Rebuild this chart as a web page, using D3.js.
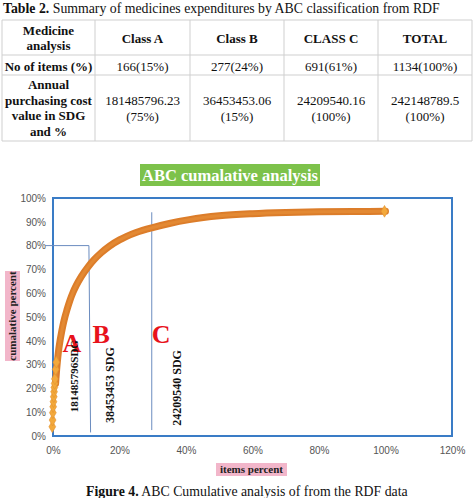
<!DOCTYPE html>
<html>
<head>
<meta charset="utf-8">
<script src="https://cdn.jsdelivr.net/npm/d3@7"></script>
<style>
html,body{margin:0;padding:0;background:#fff;}
svg{display:block;}
</style>
</head>
<body>
<svg id="chart" width="474" height="498"></svg>
<script>
// ---------- table data ----------
const tableTitleBold = "Table 2.";
const tableTitleRest = " Summary of medicines expenditures by ABC classification from RDF";
const headerRow = [["Medicine", "analysis"], ["Class A"], ["Class B"], ["CLASS C"], ["TOTAL"]];
const itemsRow = ["No of items (%)", "166(15%)", "277(24%)", "691(61%)", "1134(100%)"];
const costRowLabel = ["Annual", "purchasing cost", "value in SDG", "and %"];
const costValues = ["181485796.23", "36453453.06", "24209540.16", "242148789.5"];
const costShares = ["(75%)", "(15%)", "(100%)", "(100%)"];

// ---------- chart data ----------
const chartTitle = "ABC cumalative analysis";
const itemsPercent = [0.09, 0.18, 0.26, 0.35, 0.44, 0.53, 0.62, 0.71, 0.79, 0.88, 1.1, 1.3, 1.6, 2.0, 2.5, 3.0, 3.5, 4.2, 5.1, 6.0, 7.0, 8.5, 10.5, 12.5, 14.5, 17, 20, 22, 25, 30, 35, 41, 50, 60, 70, 80, 90, 100];
const cumulativePercent = [3.9, 6.7, 9.8, 12.3, 14.4, 16.5, 18.6, 20.4, 22.1, 24, 28, 31, 35, 39, 43, 46.5, 49.5, 53, 57, 60.3, 63.3, 67, 71, 74.3, 77, 79.8, 82.4, 83.8, 85.5, 87.6, 89.3, 90.9, 92.5, 93.4, 93.9, 94.2, 94.3, 94.4];
const yTicks = [0, 10, 20, 30, 40, 50, 60, 70, 80, 90, 100];
const xTicks = [0, 20, 40, 60, 80, 100, 120];
const classLetters = ["A", "B", "C"];
const classLetterX = [5.7, 14.5, 32.5];
const classValueLabels = ["181485796SDG", "38453453 SDG", "24209540 SDG"];
const classValueX = [6.3, 17.2, 37.3];
const classValueBottom = [10, 5.5, 4.3];
const boundaryX = [10.8, 29.7];
const boundaryTop = [80, 94];
const boundaryBottom = [1.5, 2.5];
const xTitle = "items percent";
const yTitle = "cumalative percent";
const captionBold = "Figure 4.";
const captionRest = " ABC Cumulative analysis of from the RDF data";

const svg = d3.select("#chart");
const serif = "'Liberation Serif','Times New Roman',serif";
const sans = "'Liberation Sans',Arial,sans-serif";

// ---------- table ----------
const tt = svg.append("text").attr("x", 3).attr("y", 12.5)
  .attr("font-family", serif).attr("font-size", 13.8).attr("fill", "#111");
tt.append("tspan").attr("font-weight", "bold").text(tableTitleBold);
tt.append("tspan").text(tableTitleRest);

const colEdges = [2, 95, 190, 284, 378, 472];
const rowEdges = [20, 55, 75, 141];
const gridColor = "#cfcfcf";
rowEdges.forEach(y => svg.append("line").attr("x1", colEdges[0]).attr("x2", colEdges[5])
  .attr("y1", y).attr("y2", y).attr("stroke", gridColor).attr("stroke-width", 1));
colEdges.forEach(x => svg.append("line").attr("x1", x).attr("x2", x)
  .attr("y1", rowEdges[0]).attr("y2", rowEdges[3]).attr("stroke", gridColor).attr("stroke-width", 1));

const colCenter = i => (colEdges[i] + colEdges[i + 1]) / 2;
function cellText(i, lines, yCenter, bold) {
  const lh = 15.5;
  const y0 = yCenter - (lines.length - 1) * lh / 2;
  lines.forEach((l, k) => {
    svg.append("text").attr("x", colCenter(i)).attr("y", y0 + k * lh + 4.5)
      .attr("text-anchor", "middle").attr("font-family", serif)
      .attr("font-size", 13).attr("font-weight", bold ? "bold" : "normal")
      .attr("fill", "#111").text(l);
  });
}
headerRow.forEach((lines, i) => cellText(i, lines, 38, true));
itemsRow.forEach((t, i) => cellText(i, [t], 66, i === 0));
cellText(0, costRowLabel, 108, true);
costValues.forEach((v, i) => cellText(i + 1, [v, costShares[i]], 108.5, false));

// ---------- chart ----------
const x = d3.scaleLinear().domain([0, 120]).range([53, 452]);
const y = d3.scaleLinear().domain([0, 100]).range([436, 198]);

// title box
const titleG = svg.append("g");
titleG.append("rect").attr("x", 140).attr("y", 164).attr("width", 180).attr("height", 22)
  .attr("fill", "#7dc24b");
titleG.append("text").attr("x", 230).attr("y", 181).attr("text-anchor", "middle")
  .attr("font-family", serif).attr("font-size", 16.5).attr("font-weight", "bold")
  .attr("fill", "#fff").text(chartTitle);

// axes labels
const yAxis = d3.axisLeft(y).tickValues(yTicks).tickFormat(d => d + "%").tickSize(0).tickPadding(7);
const gy = svg.append("g").attr("transform", `translate(${x(0)},0)`).call(yAxis);
gy.select(".domain").remove();
gy.selectAll("text").attr("font-family", sans).attr("font-size", 10).attr("fill", "#555");

const xAxis = d3.axisBottom(x).tickValues(xTicks).tickFormat(d => d + "%").tickSize(0).tickPadding(11);
const gx = svg.append("g").attr("transform", `translate(0,${y(0)})`).call(xAxis);
gx.select(".domain").remove();
gx.selectAll("text").attr("font-family", sans).attr("font-size", 10).attr("fill", "#555");

// plot border
svg.append("rect").attr("x", x(0)).attr("y", y(100)).attr("width", x(120) - x(0))
  .attr("height", y(0) - y(100)).attr("fill", "none").attr("stroke", "#3a7cc6").attr("stroke-width", 2);

// class boundary lines
const lineColor = "#6b8cbf";
svg.append("path")
  .attr("d", `M${x(-2.4)},${y(boundaryTop[0])}H${x(boundaryX[0])}L${x(boundaryX[0] + 0.5)},${y(boundaryBottom[0])}`)
  .attr("fill", "none").attr("stroke", lineColor).attr("stroke-width", 1);
svg.append("line").attr("x1", x(boundaryX[1])).attr("x2", x(boundaryX[1]))
  .attr("y1", y(boundaryTop[1])).attr("y2", y(boundaryBottom[1]))
  .attr("stroke", lineColor).attr("stroke-width", 1);

// cumulative curve
const pts = itemsPercent.map((v, i) => [v, cumulativePercent[i]]);
const line = d3.line().x(d => x(d[0])).y(d => y(d[1])).curve(d3.curveMonotoneX);
svg.append("path").datum(pts.slice(8)).attr("d", line)
  .attr("fill", "none").attr("stroke", "#dc7d2a").attr("stroke-width", 7)
  .attr("stroke-linecap", "round");
svg.append("path").datum(pts.slice(8)).attr("d", line)
  .attr("fill", "none").attr("stroke", "#e8913a").attr("stroke-width", 3).attr("opacity", 0.6);
const sym = d3.symbol().type(d3.symbolDiamond).size(40);
svg.selectAll(".pt").data(pts.filter((d, i) => i < 12 || i === pts.length - 1)).join("path")
  .attr("transform", d => `translate(${x(d[0]) - 1},${y(d[1])})`)
  .attr("d", sym).attr("fill", "#f3a93b").attr("stroke", "#e39232").attr("stroke-width", 0.6);

// class letters
classLetters.forEach((l, i) => {
  svg.append("text").attr("x", x(classLetterX[i])).attr("y", i === 0 ? 352 : 343)
    .attr("text-anchor", "middle").attr("font-family", serif).attr("font-size", 26)
    .attr("font-weight", "bold").attr("fill", "#e8121b").text(l);
});
classValueLabels.forEach((t, i) => {
  svg.append("text")
    .attr("transform", `translate(${x(classValueX[i]) + 4},${y(classValueBottom[i])}) rotate(-90)`)
    .attr("font-family", serif).attr("font-size", i === 0 ? 11 : 12).attr("font-weight", "bold")
    .attr("fill", "#111").text(t);
});

// axis titles
svg.append("rect").attr("x", 216).attr("y", 463).attr("width", 71).attr("height", 13).attr("fill", "#f2b6ca");
svg.append("text").attr("x", 251.5).attr("y", 473).attr("text-anchor", "middle")
  .attr("font-family", serif).attr("font-size", 11).attr("font-weight", "bold").attr("fill", "#222").text(xTitle);
svg.append("rect").attr("x", 5).attr("y", 271).attr("width", 15).attr("height", 90).attr("fill", "#f2b6ca");
svg.append("text").attr("transform", "translate(16,316) rotate(-90)").attr("text-anchor", "middle")
  .attr("font-family", serif).attr("font-size", 11).attr("font-weight", "bold").attr("fill", "#222").text(yTitle);

// caption
const cap = svg.append("text").attr("x", 86).attr("y", 496)
  .attr("font-family", serif).attr("font-size", 13.8).attr("fill", "#111");
cap.append("tspan").attr("font-weight", "bold").text(captionBold);
cap.append("tspan").text(captionRest);
</script>
</body>
</html>
